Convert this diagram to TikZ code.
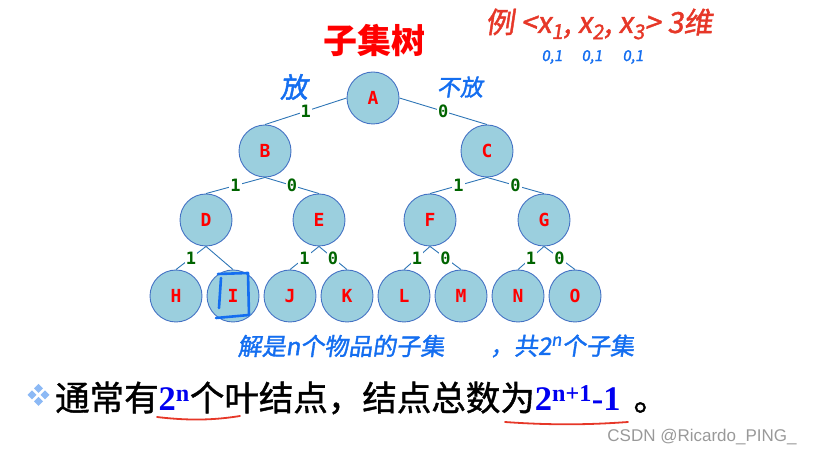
\documentclass[tikz,border=0pt]{standalone}
\usepackage{fontspec}
\setmainfont{Liberation Serif}
\newfontfamily\cjk{Noto Sans CJK SC}
\newfontfamily\cjkheavy[FakeBold=1.2]{Noto Sans CJK SC}
\newfontfamily\hand[FakeSlant=0.15, FakeBold=1.5]{Noto Sans CJK SC}
\newfontfamily\mono{DejaVu Sans Mono}
\newfontfamily\wmark{Liberation Sans}

\definecolor{nodefill}{RGB}{155,207,222}
\definecolor{nodeline}{RGB}{68,114,196}
\definecolor{linkblue}{RGB}{46,117,182}
\definecolor{bitgreen}{RGB}{0,100,0}
\definecolor{handblue}{RGB}{20,110,240}
\definecolor{handred}{RGB}{230,55,40}
\definecolor{numblue}{RGB}{0,0,240}
\definecolor{dotblue}{RGB}{140,185,245}

\begin{document}
\begin{tikzpicture}[x=1pt, y=-1pt]
    \tikzstyle{every node} = [inner sep=0pt]
    \tikzstyle{vert} = [circle, draw=nodeline, line width=0.9pt, fill=nodefill, minimum size=52pt, text=red, font=\mono\bfseries\fontsize{18}{18}\selectfont]
    \tikzstyle{bit} = [fill=white, inner sep=1pt, text=bitgreen, font=\mono\bfseries\fontsize{17}{17}\selectfont]
    \tikzstyle{link} = [draw=linkblue, line width=0.9pt]
    \tikzstyle{note} = [text=handblue, font=\hand\fontsize{24}{24}\selectfont]

    \useasboundingbox (0,0) rectangle (815,454);

    \node (t) at (374, 40) [text=red, font=\cjk\bfseries\fontsize{34}{34}\selectfont] {子集树};

    \node (a) at (373, 98) [vert] {A};
    \node (b) at (265, 151) [vert] {B};
    \node (c) at (487, 151) [vert] {C};

    \node (d) at (206, 220) [vert] {D};
    \node (e) at (319, 220) [vert] {E};
    \node (f) at (430, 220) [vert] {F};
    \node (g) at (544, 220) [vert] {G};

    \node (h) at (176, 296) [vert] {H};
    \node (i) at (233, 296) [vert] {I};
    \node (j) at (290, 296) [vert] {J};
    \node (k) at (347, 296) [vert] {K};
    \node (l) at (404, 296) [vert] {L};
    \node (m) at (461, 296) [vert] {M};
    \node (n) at (518, 296) [vert] {N};
    \node (o) at (575, 296) [vert] {O};

    \draw [link] (a.west) -- (b.north) node [bit, midway] {1};
    \draw [link] (a.east) -- (c.north) node [bit, midway] {0};

    \draw [link] (b.south) -- (d.north) node [bit, midway] {1};
    \draw [link] (b.south) -- (e.north) node [bit, midway] {0};
    \draw [link] (c.south) -- (f.north) node [bit, midway] {1};
    \draw [link] (c.south) -- (g.north) node [bit, midway] {0};

    \draw [link] (d.south) -- (h.north) node [bit, midway] {1};
    \draw [link] (d.south) -- (i.north);
    \draw [link] (e.south) -- (j.north) node [bit, midway] {1};
    \draw [link] (e.south) -- (k.north) node [bit, midway] {0};
    \draw [link] (f.south) -- (l.north) node [bit, midway] {1};
    \draw [link] (f.south) -- (m.north) node [bit, midway] {0};
    \draw [link] (g.south) -- (n.north) node [bit, midway] {1};
    \draw [link] (g.south) -- (o.north) node [bit, midway] {0};

    % handwritten notes
    \node (put) at (294, 87) [note, font=\hand\fontsize{28}{28}\selectfont] {放};
    \node (skip) at (460, 87) [note, font=\hand\fontsize{23}{23}\selectfont] {不放};
    \node (eg) at (599, 24) [note, text=handred, font=\hand\fontsize{29}{29}\selectfont] {例 <x\textsubscript{1}, x\textsubscript{2}, x\textsubscript{3}> 3维};
    \node (v1) at (552, 57) [note, font=\hand\fontsize{15}{15}\selectfont] {0,1};
    \node (v2) at (592, 57) [note, font=\hand\fontsize{15}{15}\selectfont] {0,1};
    \node (v3) at (633, 57) [note, font=\hand\fontsize{15}{15}\selectfont] {0,1};
    \node (sol) at (341, 346) [note] {解是n个物品的子集};
    \node (cnt) at (562, 346) [note] {，共2\textsuperscript{n}个子集};
    \draw [handblue, line width=2.6pt, line cap=round, line join=round]
        (221, 278) -- (219, 308)
        (218, 274) -- (248, 273) -- (249, 315) -- (216, 318);

    % bottom line
    \foreach \dx/\dy in {0/-6.5, -6.5/0, 6.5/0, 0/6.5}
        \fill [dotblue] (38.5+\dx, 395+\dy) +(0,-4.5) -- +(4.5,0) -- +(0,4.5) -- +(-4.5,0) -- cycle;
    \node (s) at (55, 398) [anchor=west, font=\cjkheavy\fontsize{34.5}{34.5}\selectfont]
        {通常有{\color{numblue}\rmfamily\bfseries 2\textsuperscript{n}}个叶结点，结点总数为{\color{numblue}\rmfamily\bfseries 2\textsuperscript{n+1}-1}\hspace{13pt}。};
    \draw [handred, line width=1.8pt, line cap=round] (157, 417) .. controls (190, 421) and (215, 420) .. (240, 416);
    \draw [handred, line width=1.8pt, line cap=round] (505, 422) .. controls (560, 426) and (600, 424) .. (628, 422);

    \node (w) at (702, 437) [text=black!40, font=\wmark\fontsize{17}{17}\selectfont] {CSDN @Ricardo\_PING\_};
\end{tikzpicture}
\end{document}
